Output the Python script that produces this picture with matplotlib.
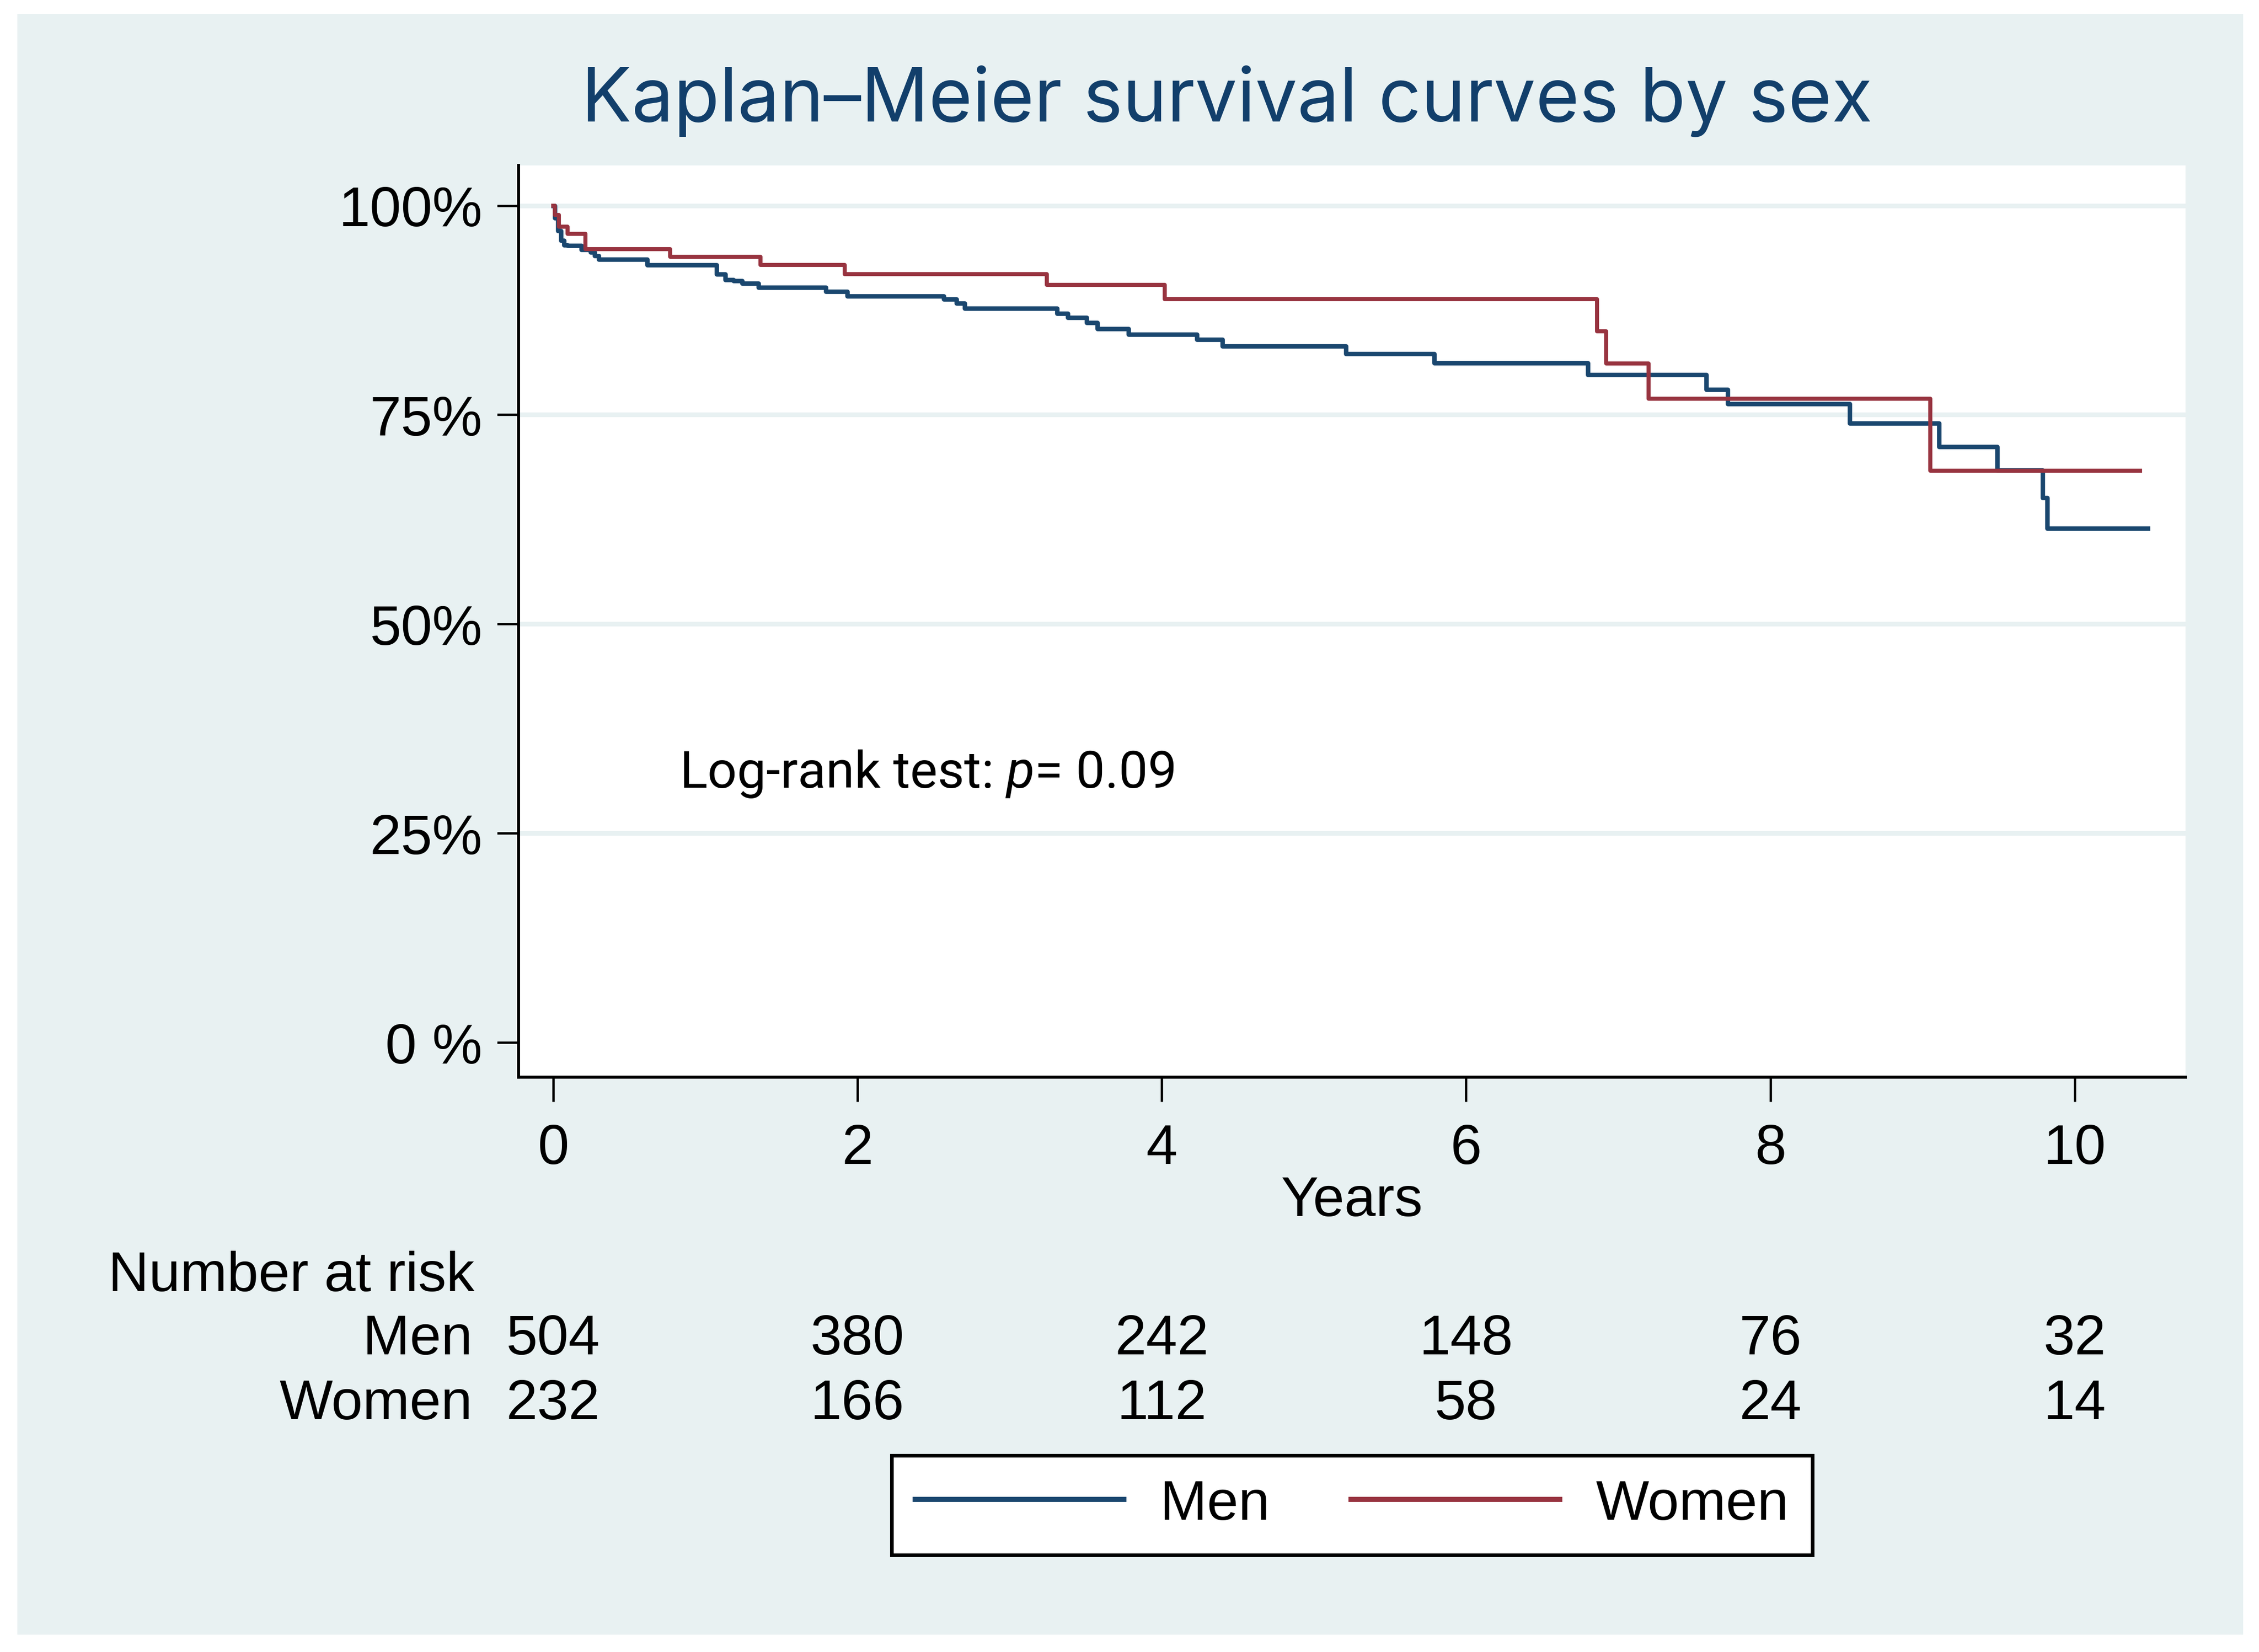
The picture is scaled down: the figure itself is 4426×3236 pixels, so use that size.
import matplotlib
matplotlib.use("Agg")
import matplotlib.pyplot as plt
from matplotlib.patches import Rectangle
from matplotlib.lines import Line2D
import matplotlib.transforms as mtransforms

# ---------------- data ----------------
men_time = [0, 0.01, 0.03, 0.05, 0.07, 0.093, 0.184, 0.245, 0.273, 0.300, 0.618,
            1.074, 1.130, 1.185, 1.240, 1.350, 1.793, 1.931, 2.566, 2.649, 2.704,
            3.312, 3.381, 3.506, 3.575, 3.782, 4.23, 4.40, 5.21, 5.79, 6.80,
            7.58, 7.72, 8.52, 9.11, 9.49, 9.79, 9.82, 10.48]
men_surv = [100, 98.5, 97.0, 95.8, 95.3, 95.2, 94.7, 94.4, 94.0, 93.6, 92.9,
            91.8, 91.1, 91.0, 90.7, 90.2, 89.7, 89.2, 88.8, 88.3, 87.7,
            87.1, 86.6, 86.0, 85.3, 84.6, 84.0, 83.2, 82.3, 81.2, 79.8,
            78.0, 76.3, 74.0, 71.2, 68.4, 65.1, 61.4, 61.4]

women_time = [0, 0.01, 0.038, 0.093, 0.21, 0.77, 1.364, 1.917, 3.243, 4.02,
              6.86, 6.92, 7.20, 9.05, 10.43]
women_surv = [100, 98.9, 97.5, 96.6, 94.8, 93.9, 92.9, 91.8, 90.5, 88.8,
              85.0, 81.1, 76.9, 68.3, 68.3]

risk_times = [0, 2, 4, 6, 8, 10]
risk_men = [504, 380, 242, 148, 76, 32]
risk_women = [232, 166, 112, 58, 24, 14]

y_ticks = [0, 25, 50, 75, 100]
y_ticklabels = ["0 %", "25%", "50%", "75%", "100%"]
x_ticks = [0, 2, 4, 6, 8, 10]

# ---------------- style ----------------
MEN_C = "#1A476F"
WOMEN_C = "#983440"
BG = "#E8F1F2"
GRID = "#E8F1F2"
TITLE_C = "#123F6B"
TICKFONT = "Liberation Sans"
FS = 26.5

plt.rcParams['mathtext.fontset'] = 'custom'
plt.rcParams['mathtext.it'] = 'Roboto:italic'
plt.rcParams['mathtext.rm'] = 'Roboto'

W, H = 1568.0, 1147.0  # reference display coords
def fx(x): return x / W
def fy(y): return 1 - y / H

fig = plt.figure(figsize=(4426/300, 3237/300), dpi=300)
fig.patch.set_facecolor("white")
fig.patches.append(Rectangle((fx(12), fy(1135)), fx(1557) - fx(12), fy(10) - fy(1135),
                             transform=fig.transFigure, facecolor=BG, edgecolor="none", zorder=0))

ax = fig.add_axes([fx(360), fy(748), fx(1517) - fx(360), fy(115) - fy(748)])
ax.set_facecolor("white")
ax.set_zorder(1)

ax.set_xlim((360 - 384) / 105.6, (1517 - 384) / 105.6)
ax.set_ylim(-(748 - 724) / 5.81, (724 - 115) / 5.81)

for v in [25, 50, 75, 100]:
    ax.axhline(v, color=GRID, lw=2.2, zorder=0.5)

ax.step(men_time, men_surv, where="post", color=MEN_C, lw=2.1, zorder=3)
ax.step(women_time, women_surv, where="post", color=WOMEN_C, lw=1.9, zorder=3)

for s in ["top", "right"]:
    ax.spines[s].set_visible(False)
for s in ["left", "bottom"]:
    ax.spines[s].set_linewidth(1.4)
    ax.spines[s].set_color("black")

ax.set_yticks(y_ticks)
ax.set_yticklabels(y_ticklabels, fontfamily=TICKFONT, fontsize=FS)
ax.set_xticks(x_ticks)
ax.set_xticklabels([str(t) for t in x_ticks], fontfamily=TICKFONT, fontsize=FS)
ax.tick_params(axis="y", direction="out", length=10, width=1.1, pad=7)
ax.tick_params(axis="x", direction="out", length=11.5, width=1.1, pad=10)

ax.text(0.83, 30.5, "Log-rank test: $\\mathit{p}$= 0.09", fontfamily="Roboto",
        fontsize=24.3, va="baseline", ha="left", color="black", zorder=4)

fig.text(fx(851.5), fy(84), "Kaplan\u2013Meier survival curves by sex", fontfamily="Inter",
         fontsize=35.2, color=TITLE_C, ha="center", va="baseline")

fig.text(fx(938.5), fy(834), "Years", fontfamily=TICKFONT, fontsize=FS,
         ha="center", va="center")

trans = mtransforms.blended_transform_factory(ax.transData, fig.transFigure)
fig.text(fx(75), fy(886), "Number at risk", fontfamily=TICKFONT, fontsize=FS,
         ha="left", va="center")
fig.text(fx(328), fy(930), "Men", fontfamily=TICKFONT, fontsize=FS, ha="right", va="center")
fig.text(fx(328), fy(975), "Women", fontfamily=TICKFONT, fontsize=FS, ha="right", va="center")
for t, m, w in zip(risk_times, risk_men, risk_women):
    fig.text(t, fy(930), str(m), transform=trans, fontfamily=TICKFONT, fontsize=FS,
             ha="center", va="center")
    fig.text(t, fy(975), str(w), transform=trans, fontfamily=TICKFONT, fontsize=FS,
             ha="center", va="center")

handles = [Line2D([], [], color=MEN_C, lw=2.4), Line2D([], [], color=WOMEN_C, lw=2.4)]
leg = fig.legend(handles, ["Men", "Women"], loc="center", bbox_to_anchor=(fx(938.5), fy(1045)),
                 ncol=2, frameon=True, fancybox=False, prop={"family": TICKFONT, "size": FS},
                 handlelength=3.7, handletextpad=0.64, columnspacing=1.45,
                 borderpad=0.42, borderaxespad=0)
leg.get_frame().set_edgecolor("black")
leg.get_frame().set_linewidth(1.7)
leg.get_frame().set_facecolor("white")
leg.get_frame().set_alpha(1)

fig.savefig("out.png", dpi=300)
